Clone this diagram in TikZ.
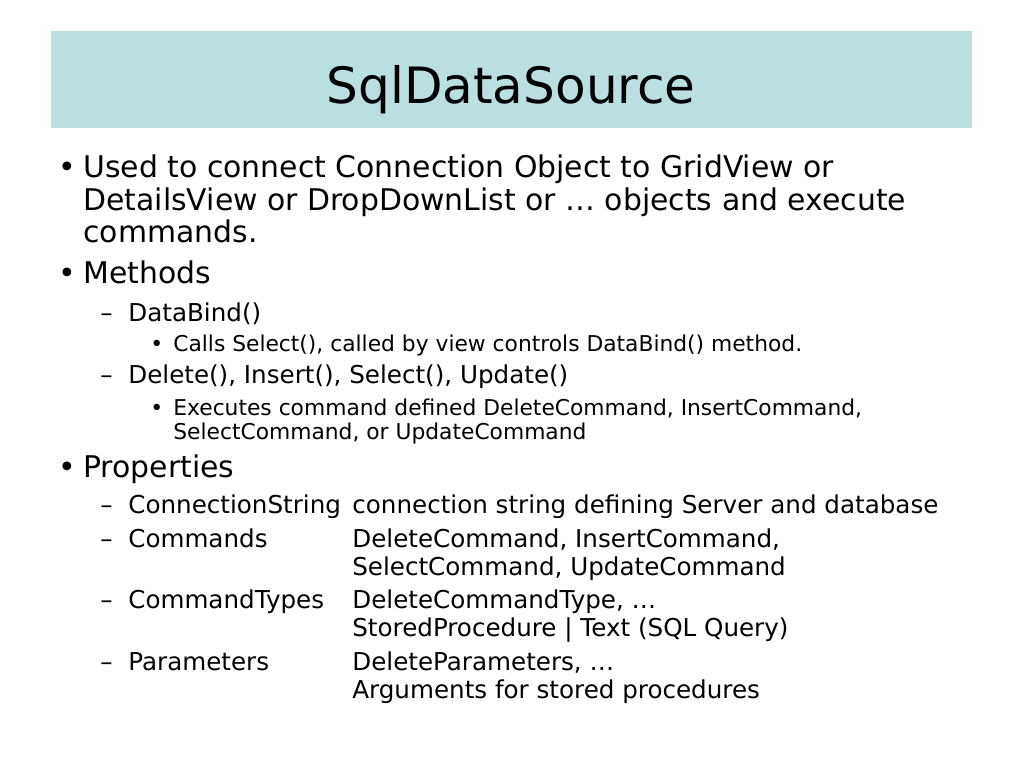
\documentclass[tikz,border=0pt]{standalone}
\usepackage{fontspec}
\setmainfont{DejaVu Sans}
\usetikzlibrary{positioning}
\definecolor{titlebg}{HTML}{B9DFE1}
\tikzset{
  lvlone/.style={anchor=base west, inner sep=0pt, font=\fontsize{17}{20}\selectfont},
  lvltwo/.style={anchor=base west, inner sep=0pt, font=\fontsize{14}{17}\selectfont},
  lvlthree/.style={anchor=base west, inner sep=0pt, font=\fontsize{12.4}{15}\selectfont},
}
\begin{document}
\begin{tikzpicture}[x=0.02cm,y=-0.02cm]
  \useasboundingbox (0,0) rectangle (1024,768);
  % title band
  \fill[titlebg] (51,31) rectangle (972,128);
  \node[anchor=base, inner sep=0pt, font=\fontsize{28.5}{34}\selectfont] (title) at (511,103) {SqlDataSource};
  % first level
  \node[lvlone] (b1) at (58,177) {•};
  \node[lvlone] (t1) at (83,177) {Used to connect Connection Object to GridView or};
  \node[lvlone] (t1b) at (83,210) {DetailsView or DropDownList or … objects and execute};
  \node[lvlone] (t1c) at (83,242) {commands.};
  \node[lvlone] (b2) at (58,283) {•};
  \node[lvlone] (t2) at (83,283) {Methods};
  \node[lvltwo] (d1) at (100,321) {–};
  \node[lvltwo] (m1) at (128,321) {DataBind()};
  \node[lvlthree] (s1) at (150,351) {•};
  \node[lvlthree] (m1a) at (173,351) {Calls Select(), called by view controls DataBind() method.};
  \node[lvltwo] (d2) at (100,383) {–};
  \node[lvltwo] (m2) at (128,383) {Delete(), Insert(), Select(), Update()};
  \node[lvlthree] (s2) at (150,415) {•};
  \node[lvlthree] (m2a) at (173,415) {Executes command defined DeleteCommand, InsertCommand,};
  \node[lvlthree] (m2b) at (173,439) {SelectCommand, or UpdateCommand};
  \node[lvlone] (b3) at (58,477) {•};
  \node[lvlone] (t3) at (83,477) {Properties};
  % properties table
  \foreach \y/\name/\first/\second in {
      513/ConnectionString/{connection string defining Server and database}/{},
      547/Commands/{DeleteCommand, InsertCommand,}/{SelectCommand, UpdateCommand},
      608/CommandTypes/{DeleteCommandType, …}/{StoredProcedure | Text (SQL Query)},
      670/Parameters/{DeleteParameters, …}/{Arguments for stored procedures}} {
    \node[lvltwo] at (100,\y) {–};
    \node[lvltwo] at (128,\y) {\name};
    \node[lvltwo] at (352,\y) {\first};
    \node[lvltwo] at (352,\y+28) {\second};
  }
\end{tikzpicture}
\end{document}
